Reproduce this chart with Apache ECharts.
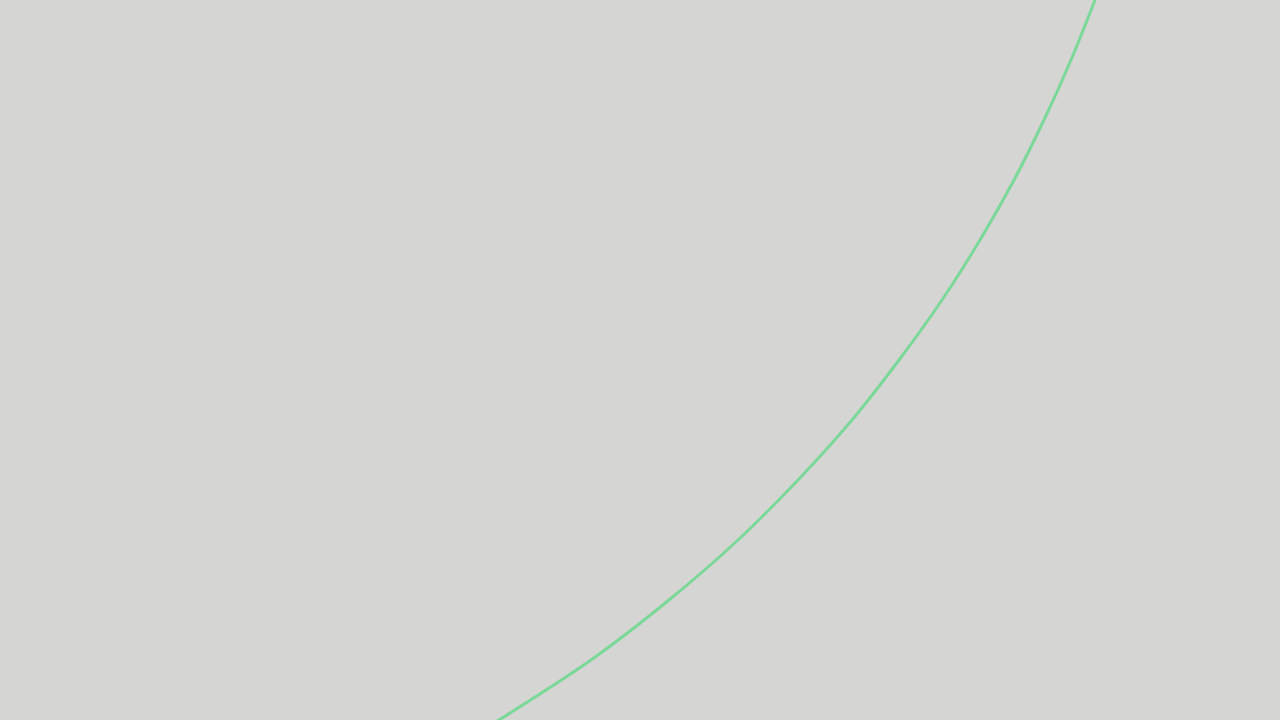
<!DOCTYPE html>
<html>
<head>
<meta charset="utf-8">
<script src="https://cdn.jsdelivr.net/npm/echarts@6/dist/echarts.min.js"></script>
<style>
html,body{margin:0;padding:0;background:#d5d5d4;}
#chart{width:1280px;height:720px;}
</style>
</head>
<body>
<div id="chart"></div>
<script>
// Curve values (x, y in chart units)
const xValues = [464, 499, 591, 669, 738, 798, 852, 899, 942, 980, 1014, 1044, 1071, 1095, 1102];
const yValues = [-20, 0, 60, 120, 180, 240, 300, 360, 420, 480, 540, 600, 660, 720, 740];

const points = xValues.map((x, i) => [x, yValues[i]]);

const chart = echarts.init(document.getElementById('chart'));
chart.setOption({
  backgroundColor: '#d5d5d4',
  animation: false,
  grid: {left: 0, right: 0, top: 0, bottom: 0},
  xAxis: {type: 'value', min: 0, max: 1280, show: false},
  yAxis: {type: 'value', min: 0, max: 720, show: false},
  series: [{
    type: 'line',
    data: points,
    smooth: 0.3,
    symbol: 'none',
    clip: true,
    lineStyle: {color: '#7bd899', width: 3}
  }]
});
</script>
</body>
</html>
